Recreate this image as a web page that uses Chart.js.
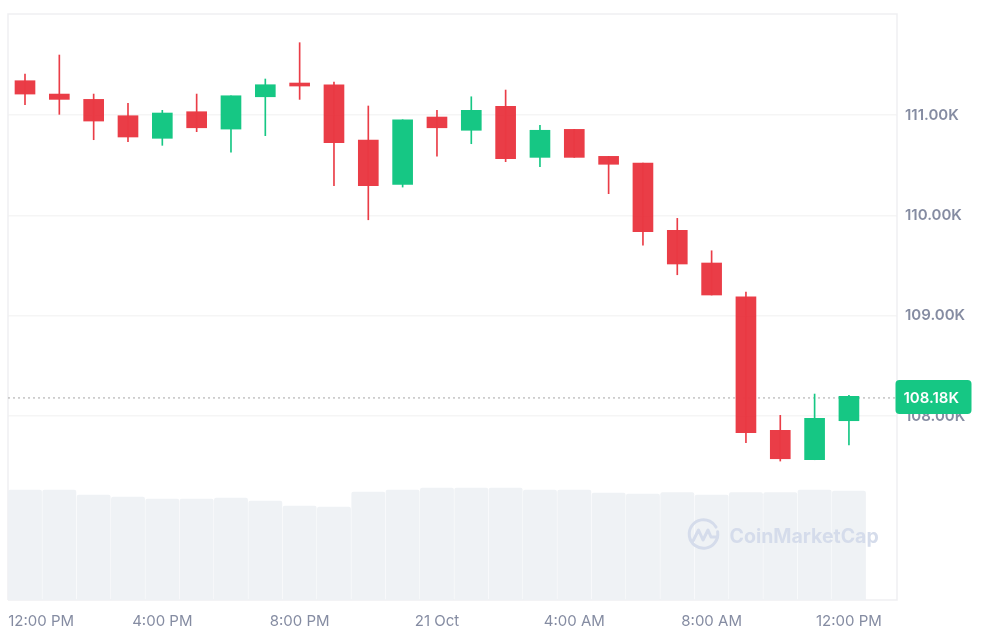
<!DOCTYPE html>
<html>
<head>
<meta charset="utf-8">
<style>html,body{margin:0;padding:0;background:#fff}canvas{display:block}</style>
<script src="https://cdn.jsdelivr.net/npm/chart.js@4"></script>
</head>
<body>
<canvas id="c" width="981" height="629"></canvas>
<script>
const opens  = [111.342,111.209,111.156,110.993,110.768,111.033,110.860,111.182,111.319,111.302,110.751,110.309,110.980,110.848,111.087,110.578,110.857,110.588,110.522,109.851,109.525,109.189,107.857,107.564,107.953];
const closes = [111.209,111.156,110.940,110.781,111.020,110.873,111.192,111.302,111.289,110.724,110.295,110.953,110.873,111.047,110.564,110.848,110.578,110.509,109.837,109.515,109.206,107.833,107.574,107.977,108.196];
const highs  = [111.409,111.598,111.209,111.117,111.047,111.209,111.192,111.359,111.721,111.329,111.090,110.953,111.047,111.182,111.249,110.897,110.857,110.588,110.522,109.970,109.647,109.236,108.007,108.219,108.206];
const lows   = [111.103,111.007,110.754,110.734,110.698,110.834,110.631,110.794,111.156,110.295,109.956,110.282,110.591,110.714,110.535,110.485,110.578,110.216,109.704,109.408,109.206,107.734,107.551,107.564,107.711];
const volumes = [110,110,105,103,101,101,102,99,94,93,108,110,112,112,112,110,110,107,106,107.5,105,107.5,107.5,110,109];
const lastPrice = 108.18;
const priceTicks = [108,109,110,111];
const timeLabels = ["12:00 PM","4:00 PM","8:00 PM","21 Oct","4:00 AM","8:00 AM","12:00 PM"];
const timeSlots = [0.47,4,8,12,16,20,24];

const UP = "#16c784", DOWN = "rgba(234,57,67,0.98)", GREY = "#858ca2";
const idx = opens.map((_, i) => i);
const colors = idx.map(i => closes[i] >= opens[i] ? UP : DOWN);
const X_MIN = -0.495, X_MAX = 25.4;

const frame = {
  id: "frame",
  beforeDatasetsDraw(ch) {
    const a = ch.chartArea, g = ch.ctx;
    g.save();
    g.strokeStyle = "#eff0f2"; g.lineWidth = 1.5;
    g.beginPath();
    g.moveTo(a.left, a.bottom); g.lineTo(a.left, a.top); g.lineTo(a.right, a.top); g.lineTo(a.right, a.bottom); g.lineTo(a.left, a.bottom);
    g.stroke();
    g.restore();
  },
  afterDatasetsDraw(ch) {
    const g = ch.ctx;
    g.save();
    g.strokeStyle = "#d5dceb"; g.fillStyle = "#d5dceb"; g.lineWidth = 3; g.lineCap = "round"; g.lineJoin = "round";
    g.beginPath(); g.arc(703.5, 534, 14.3, -0.05 * Math.PI, 1.95 * Math.PI - 0.35); g.stroke();
    g.beginPath();
    g.moveTo(693, 541); g.lineTo(698.5, 530); g.lineTo(703, 540); g.lineTo(708, 530); g.lineTo(711, 537); g.lineTo(717.5, 537);
    g.stroke();
    g.font = "700 19.5px Inter"; g.textBaseline = "middle"; g.textAlign = "left";
    g.fillText("CoinMarketCap", 729.5, 537);
    g.restore();
    const y = ch.scales.y.getPixelForValue(lastPrice);
    g.save();
    g.fillStyle = UP;
    g.beginPath(); g.roundRect(895.5, y - 18, 76, 34, 4); g.fill();
    g.fillStyle = "#fff"; g.font = "600 15px Inter"; g.textAlign = "left"; g.textBaseline = "middle";
    g.fillText(lastPrice.toFixed(2) + "K", 903.5, y + 0.5);
    g.restore();
  }
};

new Chart(document.getElementById("c"), {
  data: {
    datasets: [
      { type: "bar", label: "Volume", order: 4, yAxisID: "v", xAxisID: "x", grouped: false,
        data: idx.map(i => ({ x: i, y: volumes[i] })), backgroundColor: "#eff2f5", barThickness: 33.2,
        borderRadius: { topLeft: 2, topRight: 2, bottomLeft: 0, bottomRight: 0 }, borderSkipped: false },
      { type: "line", label: "Last", order: 3, yAxisID: "y", xAxisID: "x",
        data: [{ x: X_MIN, y: lastPrice }, { x: X_MAX, y: lastPrice }], borderColor: "#a6a6a6", borderWidth: 1, borderDash: [2, 3], pointRadius: 0 },
      { type: "bar", label: "Range", order: 2, yAxisID: "y", xAxisID: "x", grouped: false,
        data: idx.map(i => ({ x: i, y: [lows[i], highs[i]] })), backgroundColor: colors, barThickness: 1 },
      { type: "bar", label: "Body", order: 1, yAxisID: "y", xAxisID: "x", grouped: false,
        data: idx.map(i => ({ x: i, y: [opens[i], closes[i]] })), backgroundColor: colors, barThickness: 20 }
    ]
  },
  options: {
    responsive: false,
    animation: false,
    layout: { padding: { left: 8, top: 14, right: 0, bottom: 0 } },
    plugins: { legend: { display: false }, tooltip: { enabled: false } },
    scales: {
      x: {
        type: "linear", min: X_MIN, max: X_MAX, offset: false,
        grid: { display: false, drawTicks: false }, border: { display: false },
        afterBuildTicks(s) { s.ticks = timeSlots.map(v => ({ value: v })); },
        afterFit(s) { s.height = 29; s.paddingLeft = 0; s.paddingRight = 0; },
        ticks: {
          autoSkip: false, maxRotation: 0, minRotation: 0, padding: 12, color: GREY,
          font: { family: "Inter", size: 15, weight: "400" },
          callback(v) { const k = timeSlots.indexOf(v); return k >= 0 ? timeLabels[k] : ""; }
        }
      },
      y: {
        type: "linear", position: "right", min: 106.166, max: 112.007,
        grid: { color: "#f5f5f5", lineWidth: 1.5, drawTicks: false }, border: { display: false },
        afterBuildTicks(s) { s.ticks = priceTicks.map(v => ({ value: v })); },
        afterFit(s) { s.width = 84; s.paddingTop = 0; s.paddingBottom = 0; },
        ticks: { padding: 8, color: GREY, font: { family: "Inter", size: 15, weight: "600" },
          callback: v => v.toFixed(2) + "K" }
      },
      v: { type: "linear", display: false, min: 0, max: 586 }
    }
  },
  plugins: [frame]
});
</script>
</body>
</html>
